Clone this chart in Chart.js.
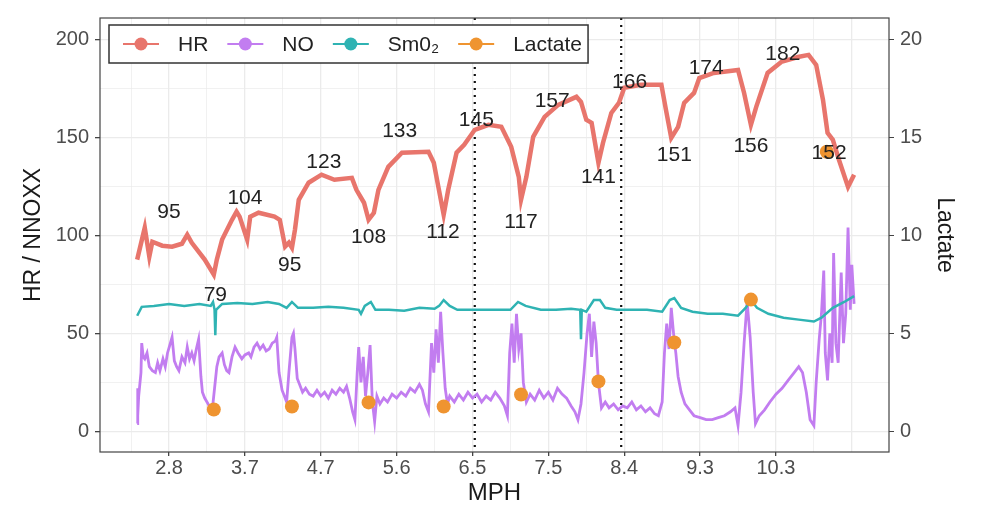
<!DOCTYPE html>
<html>
<head>
<meta charset="utf-8">
<script src="https://cdn.jsdelivr.net/npm/chart.js@4.4.0/dist/chart.umd.min.js"></script>
<style>
  html, body { margin: 0; padding: 0; background: #fff; }
</style>
</head>
<body>
<canvas id="chart" width="982" height="510"></canvas>
<script>
'use strict';

// x is the stage index: 0 = 2.8 mph, 1 = 3.7 mph ...
var speedLabels = ['2.8', '3.7', '4.7', '5.6', '6.5', '7.5', '8.4', '9.3', '10.3'];
var thresholdX = [4.03, 5.96];

var hrX = [-0.42, -0.32, -0.26, -0.22, -0.09, 0.04, 0.17, 0.24, 0.30, 0.47, 0.59, 0.63, 0.70, 0.83, 0.89, 0.93,
  1.03, 1.07, 1.18, 1.39, 1.46, 1.53, 1.58, 1.62, 1.66, 1.71, 1.84, 2.01, 2.18, 2.41, 2.47, 2.57, 2.63, 2.70,
  2.76, 2.89, 3.07, 3.42, 3.49, 3.55, 3.62, 3.68, 3.79, 3.89, 4.03, 4.21, 4.38, 4.51, 4.61, 4.64, 4.71, 4.80,
  4.95, 5.13, 5.37, 5.43, 5.50, 5.57, 5.66, 5.72, 5.83, 5.93, 6.00, 6.22, 6.49, 6.55, 6.62, 6.71, 6.79, 6.92,
  6.99, 7.18, 7.50, 7.58, 7.67, 7.74, 7.89, 8.07, 8.29, 8.43, 8.53, 8.62, 8.68, 8.75, 8.83, 8.95, 9.03];
var hrY = [87.6, 103.9, 89.1, 96.7, 94.7, 94.2, 95.7, 100.3, 96.2, 87.6, 79.9, 87.6, 97.8, 107.9, 112.0, 109.5,
  97.8, 109.5, 111.5, 109.5, 107.9, 94.2, 96.2, 93.7, 102.9, 118.1, 126.8, 130.9, 128.3, 129.3, 123.2, 116.6, 107.9, 111.5,
  123.2, 134.9, 142.1, 142.6, 137.0, 124.7, 110.5, 123.2, 142.1, 146.1, 153.8, 156.3, 155.3, 145.1, 129.8, 118.1, 129.8, 150.2,
  160.4, 166.5, 170.6, 168.0, 158.9, 157.3, 137.0, 147.1, 162.4, 167.5, 175.2, 176.7, 176.7, 164.0, 149.7, 155.3, 167.5, 172.6,
  180.2, 182.8, 184.3, 172.6, 156.3, 165.5, 182.8, 188.4, 190.9, 192.0, 186.9, 169.0, 152.2, 148.7, 138.5, 124.7, 130.9];

var noX = [-0.42, -0.415, -0.41, -0.40, -0.37, -0.36, -0.34, -0.32, -0.29, -0.26, -0.22, -0.18, -0.15, -0.12, -0.08, -0.05,
  -0.02, 0.01, 0.04, 0.07, 0.10, 0.13, 0.17, 0.21, 0.24, 0.27, 0.30, 0.33, 0.36, 0.39, 0.42, 0.44, 0.47, 0.50, 0.53, 0.57,
  0.60, 0.63, 0.66, 0.70, 0.73, 0.76, 0.79, 0.83, 0.87, 0.91, 0.96, 1.00, 1.05, 1.08, 1.12, 1.16, 1.20, 1.24, 1.28, 1.32,
  1.36, 1.40, 1.42, 1.45, 1.49, 1.52, 1.55, 1.58, 1.62, 1.64, 1.66, 1.69, 1.72, 1.76, 1.80, 1.85, 1.90, 1.95, 2.00, 2.05,
  2.10, 2.15, 2.20, 2.25, 2.30, 2.34, 2.38, 2.42, 2.45, 2.48, 2.50, 2.53, 2.56, 2.59, 2.62, 2.65, 2.68, 2.71, 2.74, 2.78,
  2.83, 2.88, 2.94, 3.00, 3.06, 3.12, 3.18, 3.24, 3.30, 3.34, 3.38, 3.42, 3.46, 3.49, 3.52, 3.55, 3.58, 3.61, 3.64, 3.67,
  3.70, 3.76, 3.82, 3.88, 3.94, 4.00, 4.06, 4.12, 4.18, 4.24, 4.30, 4.36, 4.42, 4.46, 4.49, 4.52, 4.55, 4.58, 4.61, 4.64,
  4.67, 4.71, 4.76, 4.82, 4.88, 4.94, 5.00, 5.06, 5.12, 5.18, 5.24, 5.30, 5.35, 5.39, 5.43, 5.47, 5.51, 5.54, 5.57, 5.60,
  5.63, 5.66, 5.70, 5.75, 5.80, 5.86, 5.92, 5.98, 6.04, 6.10, 6.16, 6.22, 6.28, 6.34, 6.40, 6.45, 6.50, 6.53, 6.56, 6.59,
  6.62, 6.65, 6.68, 6.71, 6.75, 6.80, 6.86, 6.92, 7.00, 7.08, 7.16, 7.24, 7.32, 7.40, 7.46, 7.50, 7.54, 7.58, 7.62, 7.66,
  7.70, 7.73, 7.78, 7.85, 7.92, 8.00, 8.08, 8.16, 8.24, 8.30, 8.35, 8.40, 8.45, 8.50, 8.53, 8.57, 8.60, 8.63, 8.65, 8.68,
  8.71, 8.74, 8.76, 8.79, 8.82, 8.86, 8.89, 8.92, 8.95, 8.98, 9.00, 9.03];
var noY = [4, 22, 8, 18, 30, 45, 38, 37, 40, 33, 31, 30, 35, 31, 37, 33,
  40, 44, 48, 36, 33, 31, 38, 35, 43, 37, 40, 36, 42, 47, 28, 20, 17, 15, 13, 11,
  22, 33, 38, 40, 34, 31, 30, 38, 43, 40, 37, 39, 40, 38, 43, 45, 42, 44, 41, 42,
  45, 46, 48, 30, 21, 18, 15, 30, 48, 50, 42, 27, 24, 20, 22, 19, 18, 21, 18, 20,
  17, 21, 19, 22, 20, 23, 17, 10, 6, 30, 43, 25, 38, 18, 30, 44, 15, 5, 18, 14,
  17, 15, 19, 17, 20, 18, 22, 20, 24, 21, 14, 10, 45, 30, 52, 35, 61, 40, 22, 14,
  18, 15, 19, 16, 20, 17, 19, 15, 18, 16, 20, 17, 13, 8, 40, 55, 35, 60, 42, 50,
  25, 15, 19, 16, 21, 17, 20, 16, 22, 19, 17, 13, 10, 6, 14, 30, 50, 60, 38, 56,
  45, 25, 12, 15, 12, 14, 11, 13, 12, 15, 11, 13, 10, 12, 9, 8, 15, 40, 55, 42,
  63, 50, 40, 28, 20, 14, 11, 8, 7, 6, 6, 7, 8, 10, 12, 3, 20, 45, 66, 48,
  20, 4, 8, 11, 15, 19, 22, 26, 30, 33, 30, 20, 6, 3, 25, 47, 60, 82, 40, 26,
  50, 35, 91, 45, 35, 81, 45, 60, 104, 62, 85, 65];

var smX = [-0.42, -0.36, -0.2, 0.0, 0.2, 0.4, 0.55, 0.58, 0.60, 0.61, 0.62, 0.7, 0.9, 1.1, 1.3, 1.45,
  1.55, 1.62, 1.7, 1.9, 2.1, 2.3, 2.5, 2.53, 2.58, 2.66, 2.72, 2.9, 3.1, 3.3, 3.5, 3.56, 3.62, 3.7, 3.8,
  4.0, 4.3, 4.5, 4.6, 4.7, 4.9, 5.1, 5.3, 5.42, 5.43, 5.44, 5.5, 5.6, 5.68, 5.75, 5.9, 6.1, 6.3, 6.5,
  6.6, 6.66, 6.75, 6.9, 7.1, 7.3, 7.5, 7.6, 7.67, 7.75, 7.9, 8.1, 8.3, 8.5, 8.6, 8.75, 8.9, 9.03];
var smY = [59, 63.5, 64, 65, 64, 65, 64, 66, 62, 49, 62, 65, 65.5, 65, 66, 65,
  63, 66, 63, 63, 63.5, 63, 62, 60, 64, 66, 62, 62, 61.5, 63, 62.5, 64, 67, 64, 62,
  62, 62, 62, 66, 64, 62, 62, 62.5, 62, 47, 62, 61, 67, 67, 63, 62, 62, 62, 61,
  67, 68, 63, 61, 60, 60, 59, 63, 67, 63, 60, 58, 57, 56, 58, 63, 66, 69];

var lactateX = [0.59, 1.62, 2.63, 3.62, 4.64, 5.66, 6.66, 7.67, 8.67];
var lactateY = [1.12, 1.27, 1.48, 1.27, 1.88, 2.55, 4.53, 6.72, 14.26];

var peakText = ['95', '79', '104', '95', '123', '108', '133', '112', '145', '117', '157', '141', '166', '151', '174', '156', '182', '152'];
var peakX = [0.00, 0.61, 1.00, 1.59, 2.04, 2.63, 3.04, 3.61, 4.05, 4.64, 5.05, 5.66, 6.07, 6.66, 7.08, 7.67, 8.09, 8.70];
var peakY = [112.0, 69.2, 119.1, 84.5, 137.5, 98.8, 153.3, 101.8, 158.9, 106.9, 168.5, 129.8, 178.2, 141.0, 185.3, 145.6, 192.5, 142.1];

var seriesNames = ['HR', 'NO', 'Sm0\u2082', 'Lactate'];
var seriesColors = ['#e8756c', '#c27df0', '#2fb3b3', '#ef9430'];

var FONT = "'Liberation Sans', Arial, sans-serif";

function toPoints(xs, ys) {
  var pts = [];
  for (var i = 0; i < xs.length; i++) {
    pts.push({ x: xs[i], y: ys[i] });
  }
  return pts;
}

function isWhole(v) {
  return Math.abs(v - Math.round(v)) < 1e-6;
}

var extrasPlugin = {
  id: 'extras',
  beforeDatasetsDraw: function(chart) {
    var ctx = chart.ctx;
    var area = chart.chartArea;
    var x = chart.scales.x;
    ctx.save();
    ctx.strokeStyle = '#111';
    ctx.lineWidth = 2.2;
    ctx.setLineDash([2, 5]);
    for (var i = 0; i < thresholdX.length; i++) {
      var px = x.getPixelForValue(thresholdX[i]);
      ctx.beginPath();
      ctx.moveTo(px, area.top);
      ctx.lineTo(px, area.bottom);
      ctx.stroke();
    }
    ctx.restore();
  },
  afterDatasetsDraw: function(chart) {
    var ctx = chart.ctx;
    var x = chart.scales.x;
    var y = chart.scales.y;
    ctx.save();
    ctx.fillStyle = '#222';
    ctx.font = '21px ' + FONT;
    ctx.textAlign = 'center';
    ctx.textBaseline = 'middle';
    for (var i = 0; i < peakText.length; i++) {
      ctx.fillText(peakText[i], x.getPixelForValue(peakX[i]), y.getPixelForValue(peakY[i]));
    }
    ctx.restore();
  },
  afterDraw: function(chart) {
    var ctx = chart.ctx;
    var area = chart.chartArea;
    ctx.save();
    // panel border
    ctx.strokeStyle = '#444';
    ctx.lineWidth = 1.2;
    ctx.strokeRect(area.left, area.top, area.right - area.left, area.bottom - area.top);

    // legend box
    ctx.font = '21px ' + FONT;
    var left = area.left + 9;
    var top = area.top + 7;
    var h = 38;
    var cy = top + h / 2;
    var glyph = 36;
    var widths = [];
    var total = 14;
    for (var i = 0; i < seriesNames.length; i++) {
      widths.push(ctx.measureText(seriesNames[i]).width);
      total += glyph + 19 + widths[i] + (i < seriesNames.length - 1 ? 19 : 6);
    }
    ctx.fillStyle = '#fff';
    ctx.fillRect(left, top, total, h);
    ctx.strokeStyle = '#333';
    ctx.lineWidth = 1.5;
    ctx.strokeRect(left, top, total, h);

    var cx = left + 14;
    for (var j = 0; j < seriesNames.length; j++) {
      ctx.strokeStyle = seriesColors[j];
      ctx.lineWidth = 2;
      ctx.beginPath();
      ctx.moveTo(cx, cy);
      ctx.lineTo(cx + glyph, cy);
      ctx.stroke();
      ctx.fillStyle = seriesColors[j];
      ctx.beginPath();
      ctx.arc(cx + glyph / 2, cy, 6.5, 0, Math.PI * 2);
      ctx.fill();
      cx += glyph + 19;
      ctx.fillStyle = '#222';
      ctx.textAlign = 'left';
      ctx.textBaseline = 'middle';
      ctx.fillText(seriesNames[j], cx, cy + 1);
      cx += widths[j] + 19;
    }
    ctx.restore();
  }
};

var ctx = document.getElementById('chart').getContext('2d');

new Chart(ctx, {
  type: 'line',
  data: {
    datasets: [
      {
        label: seriesNames[3],
        data: toPoints(lactateX, lactateY),
        yAxisID: 'y1',
        showLine: false,
        pointRadius: 7,
        pointBackgroundColor: seriesColors[3],
        pointBorderWidth: 0,
        order: 1,
      },
      {
        label: seriesNames[2],
        data: toPoints(smX, smY),
        borderColor: seriesColors[2],
        borderWidth: 2.5,
        pointRadius: 0,
        order: 2,
      },
      {
        label: seriesNames[1],
        data: toPoints(noX, noY),
        borderColor: seriesColors[1],
        borderWidth: 2.8,
        pointRadius: 0,
        order: 3,
      },
      {
        label: seriesNames[0],
        data: toPoints(hrX, hrY),
        borderColor: seriesColors[0],
        borderWidth: 4.5,
        pointRadius: 0,
        order: 4,
      },
    ],
  },
  options: {
    responsive: false,
    animation: false,
    devicePixelRatio: 1,
    layout: { padding: { top: 18, left: 0, right: 0, bottom: 0 } },
    plugins: {
      legend: { display: false },
      tooltip: { enabled: false },
    },
    scales: {
      x: {
        type: 'linear',
        min: -0.91,
        max: 9.49,
        afterFit: function(scale) { scale.height = 58; },
        ticks: {
          stepSize: 0.5,
          includeBounds: false,
          autoSkip: false,
          maxRotation: 0,
          padding: 0,
          color: '#4d4d4d',
          font: { family: FONT, size: 20 },
          callback: function(v) {
            return isWhole(v) && speedLabels[Math.round(v)] !== undefined ? speedLabels[Math.round(v)] : '';
          },
        },
        grid: {
          color: '#ebebeb',
          lineWidth: function(c) { return c.tick && isWhole(c.tick.value) ? 1.3 : 0.7; },
          tickColor: function(c) {
            return c.tick && isWhole(c.tick.value) && speedLabels[Math.round(c.tick.value)] !== undefined ? '#444' : 'rgba(0,0,0,0)';
          },
          tickLength: 4,
        },
        border: { display: false },
        title: {
          display: true,
          text: 'MPH',
          color: '#1a1a1a',
          font: { family: FONT, size: 24 },
          padding: { top: 0, bottom: 2 },
        },
      },
      y: {
        position: 'left',
        min: -10.5,
        max: 210.8,
        afterFit: function(scale) { scale.width = 100; },
        ticks: {
          stepSize: 25,
          includeBounds: false,
          padding: 6,
          color: '#4d4d4d',
          font: { family: FONT, size: 20 },
          callback: function(v) { return v % 50 === 0 ? String(v) : ''; },
        },
        grid: {
          color: '#ebebeb',
          lineWidth: function(c) { return c.tick && c.tick.value % 50 === 0 ? 1.3 : 0.7; },
          tickColor: function(c) { return c.tick && c.tick.value % 50 === 0 ? '#444' : 'rgba(0,0,0,0)'; },
          tickLength: 5,
        },
        border: { display: false },
        title: {
          display: true,
          text: 'HR / NNOXX',
          color: '#1a1a1a',
          font: { family: FONT, size: 23 },
          padding: { top: 20, bottom: 4 },
        },
      },
      y1: {
        position: 'right',
        min: -1.05,
        max: 21.08,
        afterFit: function(scale) { scale.width = 93; },
        ticks: {
          stepSize: 5,
          includeBounds: false,
          padding: 6,
          color: '#4d4d4d',
          font: { family: FONT, size: 20 },
        },
        grid: {
          drawOnChartArea: false,
          tickColor: '#444',
          tickLength: 5,
        },
        border: { display: false },
        title: {
          display: true,
          text: 'Lactate',
          color: '#1a1a1a',
          font: { family: FONT, size: 23 },
          padding: { top: 24, bottom: 0 },
        },
      },
    },
  },
  plugins: [extrasPlugin],
});
</script>
</body>
</html>
